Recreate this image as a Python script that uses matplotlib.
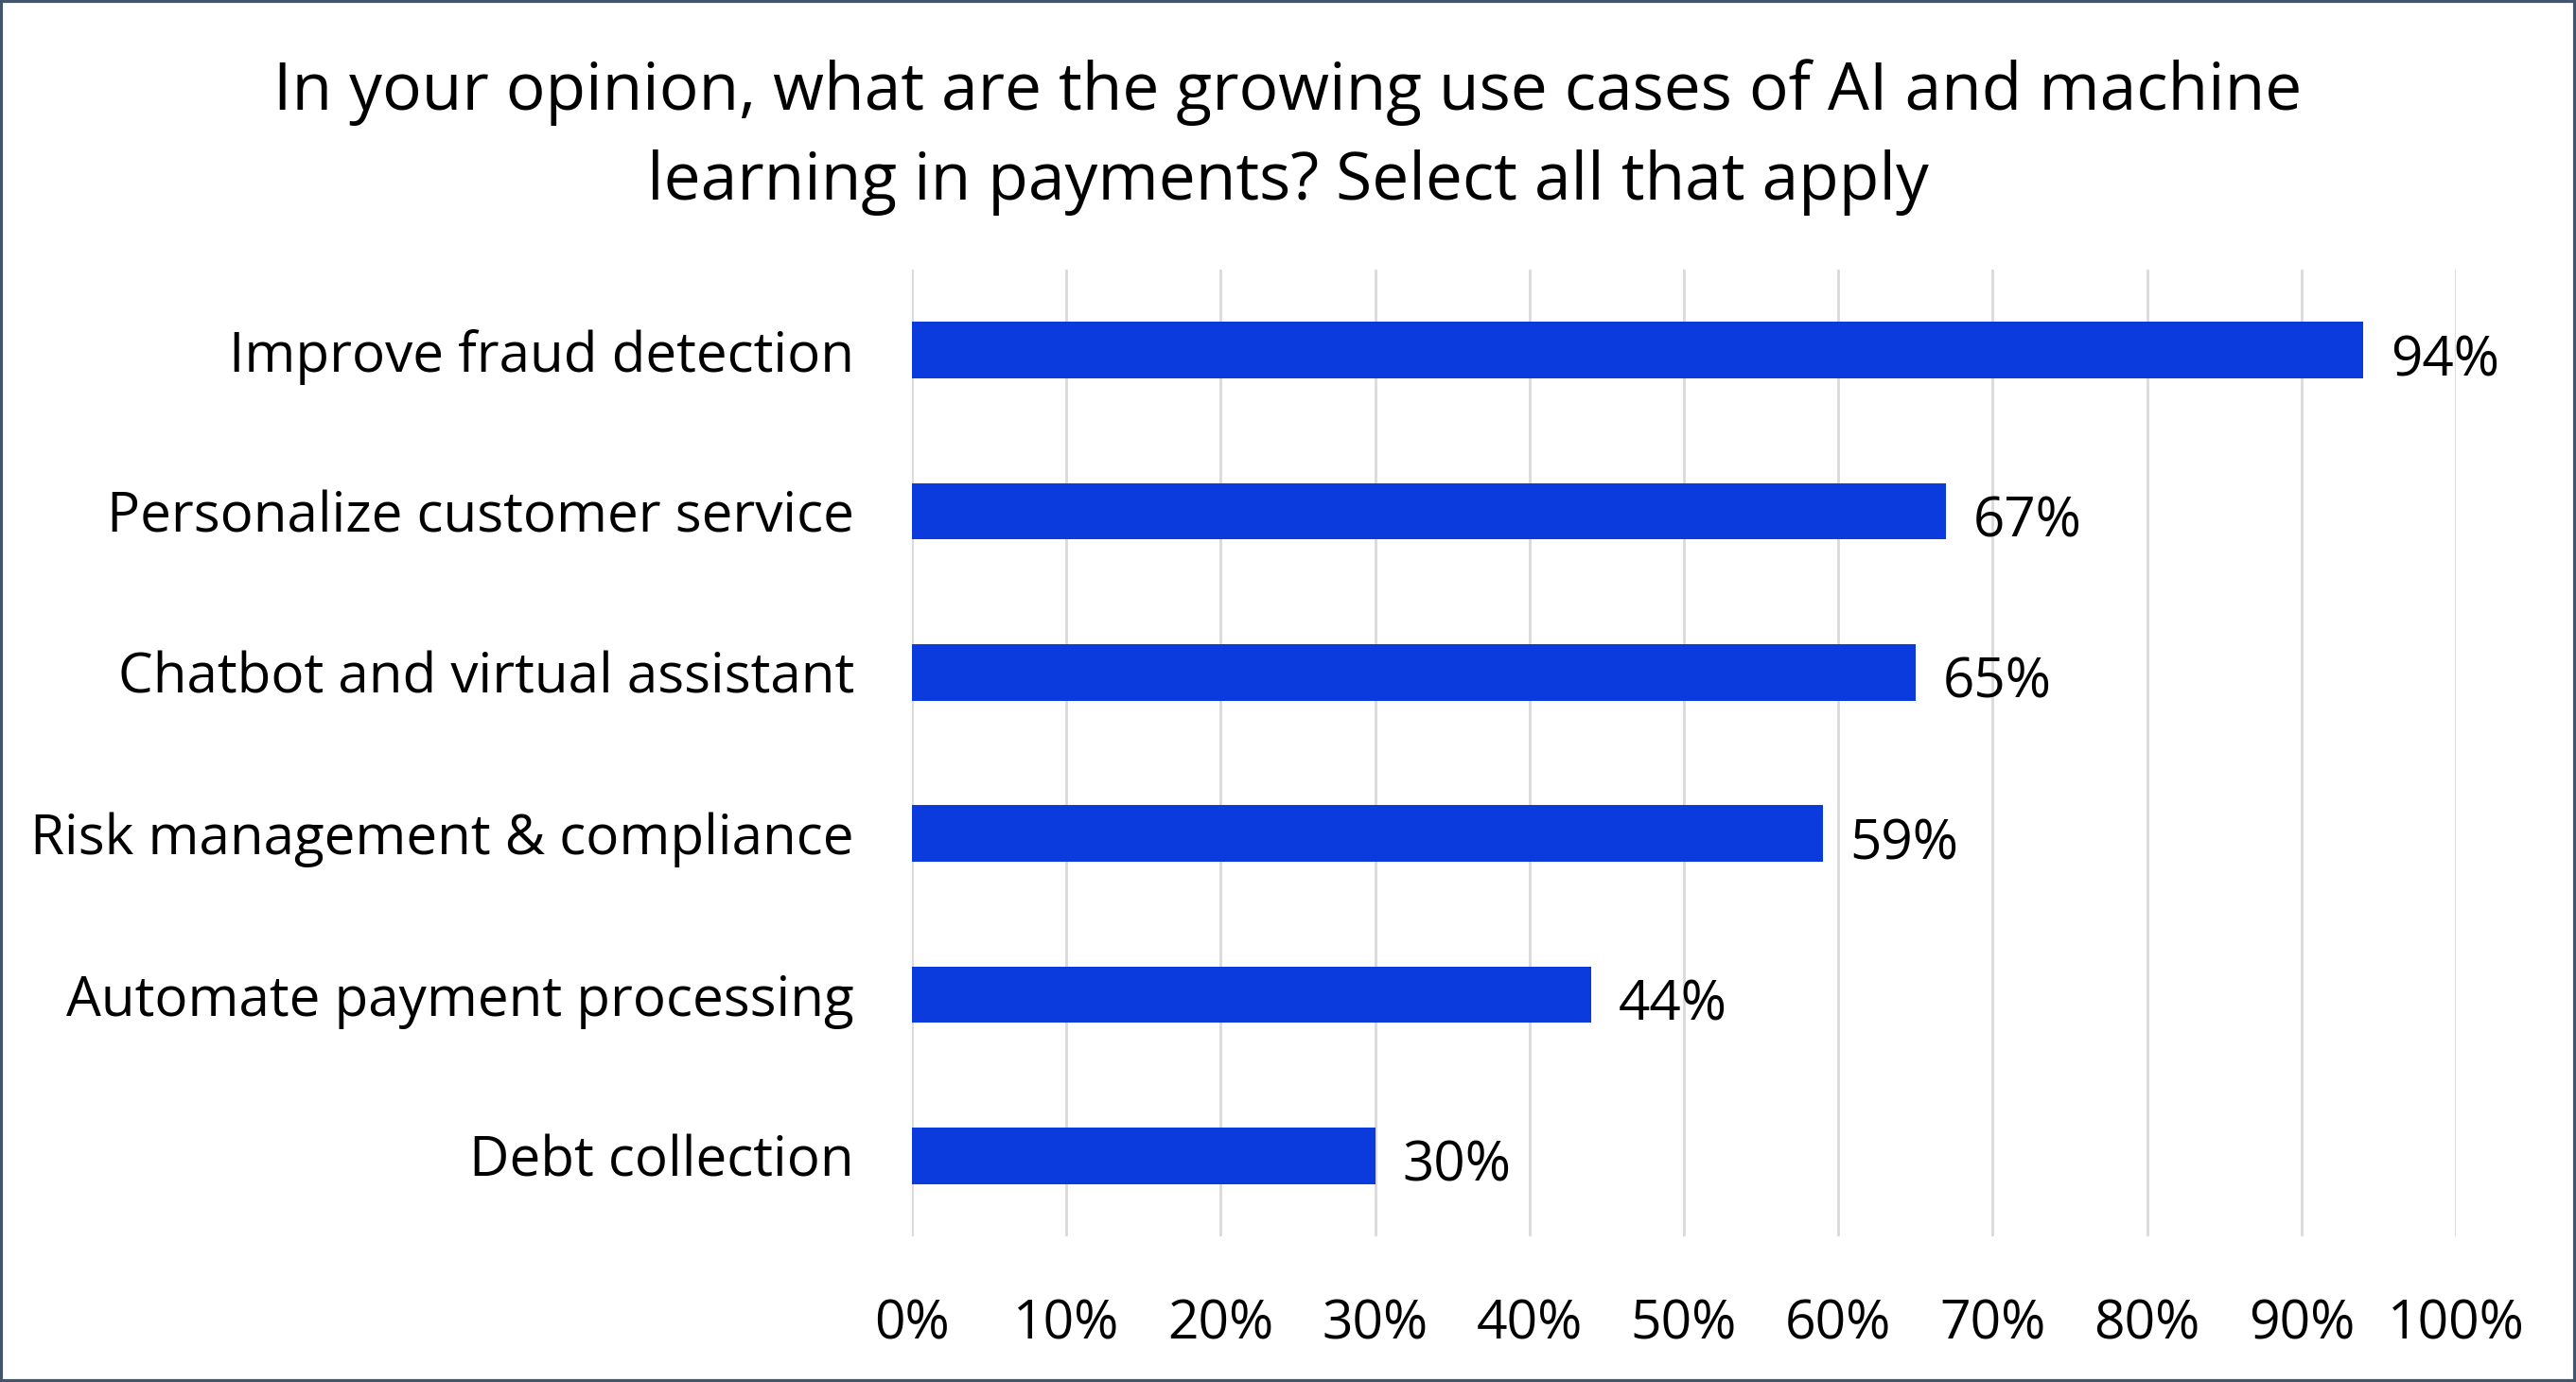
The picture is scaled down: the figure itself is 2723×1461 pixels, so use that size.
import matplotlib.pyplot as plt
from matplotlib.patches import Rectangle

plt.rcParams['font.family'] = ['Open Sans', 'DejaVu Sans']

title_lines = ["In your opinion, what are the growing use cases of AI and machine",
               "learning in payments? Select all that apply"]
categories = ["Improve fraud detection", "Personalize customer service",
              "Chatbot and virtual assistant", "Risk management & compliance",
              "Automate payment processing", "Debt collection"]
values = [94, 67, 65, 59, 44, 30]
ticks = [0, 10, 20, 30, 40, 50, 60, 70, 80, 90, 100]

bar_color = '#0B3ADD'
grid_color = '#D9D9D9'

fig = plt.figure(figsize=(27.23, 14.61), dpi=100)
ax = fig.add_axes([0.354, 0.1055, 0.5994, 0.6995])

ypos = list(range(len(categories)))[::-1]
ax.barh(ypos, values, height=0.35, color=bar_color, zorder=3)
for y, v in zip(ypos, values):
    ax.text(v + 1.75, y - 0.07, f"{v}%", va='center', ha='left', fontsize=42, color='black')

ax.set_xlim(0, 100)
ax.set_ylim(-0.5, len(categories) - 0.5)
ax.set_xticks(ticks)
ax.set_xticklabels([f"{t}%" for t in ticks], fontsize=41)
ax.set_yticks(ypos)
ax.set_yticklabels(categories, fontsize=42)
ax.tick_params(axis='x', length=0, pad=47)
ax.tick_params(axis='y', length=0, pad=44)
ax.grid(axis='x', color=grid_color, linewidth=2, zorder=0)
for s in ax.spines.values():
    s.set_visible(False)

# title drawn as two centred lines
fig.text(0.5, 0.9335, title_lines[0], ha='center', va='center', fontsize=50)
fig.text(0.5, 0.8680, title_lines[1], ha='center', va='center', fontsize=50)

fig.patches.append(Rectangle((0.0005, 0.001), 0.999, 0.998, transform=fig.transFigure,
                             fill=False, edgecolor='#44546A', linewidth=3))

fig.savefig('out.png', dpi=100)
